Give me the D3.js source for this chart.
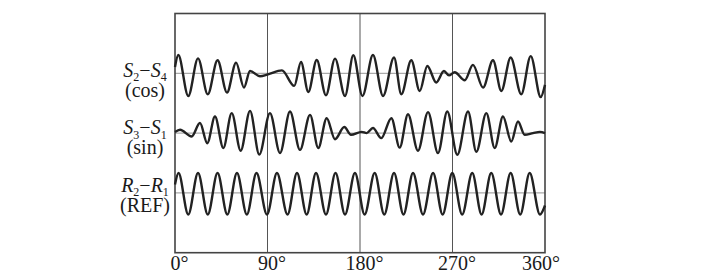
<!DOCTYPE html>
<html>
<head>
<meta charset="utf-8">
<style>
    body {
        margin: 0;
        background: white;
    }

    svg {
        display: block;
        font-family: 'Liberation Serif', 'Times New Roman', serif;
    }
</style>
</head>

<body>
    <svg width="720" height="278"></svg>
</body>

<script src="https://d3js.org/d3.v7.min.js"></script>

<script>
    // resolver signals, one row each
    let keys = ["cos", "sin", "ref"]
    let labelTop = [["S", "2", "S", "4"], ["S", "3", "S", "1"], ["R", "2", "R", "1"]]
    let labelBottom = ["(cos)", "(sin)", "(REF)"]
    let tickDegrees = [0, 90, 180, 270, 360]

    // [angle in degrees, signal] at each peak / trough
    let cosPoints = [[0, 0.3], [3.2, 0.87], [12.9, -1.08], [22.4, 0.71], [31.9, -1.0], [41.4, 0.62], [50.6, -0.92],
        [59.4, 0.51], [67.1, -0.68], [73, 0.11], [82.7, -0.14], [90.5, -0.05], [104, 0.14], [116, -0.6],
        [122.6, 0.54], [129.7, -0.89], [137.9, 0.63], [146.9, -1.05], [155.7, 0.7], [165.4, -1.08], [173.5, 0.86],
        [182.4, -1.08], [192.6, 0.87], [202.4, -1.08], [213.1, 0.75], [220.2, -1.0], [229.9, 0.62], [238.1, -0.84],
        [245.5, 0.35], [254.2, -0.44], [261.7, 0.11], [266.6, -0.1], [272.1, 0.05], [281.9, -0.33], [289.9, 0.4],
        [299.7, -0.68], [309.4, 0.62], [317.5, -0.84], [326.6, 0.75], [336.9, -1.0], [346.1, 0.82], [355.8, -1.13],
        [360, -0.55]]

    let sinPoints = [[0, 0.05], [4.9, 0.16], [16.2, -0.16], [24.3, 0.48], [31.4, -0.48], [38.9, 0.79], [47, -0.71],
        [55.2, 0.95], [63.9, -0.84], [73, 1.06], [82, -1.02], [92.4, 0.95], [102.2, -0.95], [111.9, 1.03],
        [121.6, -0.8], [131.4, 0.87], [139.4, -0.71], [147.6, 0.71], [155.7, -0.29], [164.7, 0.29], [171.2, -0.08],
        [181.6, 0.06], [186.5, 0.0], [192.6, 0.24], [200.7, -0.24], [210.5, 0.71], [218.6, -0.69], [226.7, 0.9],
        [236.4, -0.84], [246.2, 1.0], [255.9, -0.95], [264.9, 1.03], [274.7, -1.03], [285.1, 1.03], [293.2, -0.89],
        [302.9, 0.95], [311.1, -0.71], [319.1, 0.79], [327.2, -0.4], [333.7, 0.55], [340.2, -0.08], [348.3, 0.0],
        [355.1, 0.06], [360, 0.0]]

    let refPoints = [[0, 0.4], [3.4, 0.95], [12.9, -1.03], [22.4, 0.95], [31.9, -1.03], [41.4, 0.95], [50.9, -1.03],
        [60.3, 0.95], [69.9, -1.03], [79.3, 0.95], [89.5, -1.03], [99.2, 0.95], [109.5, -1.03], [118.7, 0.95],
        [128.1, -1.03], [137.2, 0.95], [146.9, -1.03], [156.2, 0.95], [165.4, -1.03], [175.1, 0.95], [184.5, -1.03],
        [194.3, 0.95], [203.6, -1.03], [213.1, 0.95], [222.3, -1.03], [231.6, 0.95], [241.3, -1.03], [251.1, 0.95],
        [260.4, -1.03], [269.8, 0.95], [279.4, -1.03], [289.2, 0.95], [298.3, -1.03], [307.7, 0.95], [317.2, -1.03],
        [326.6, 0.95], [335.9, -1.03], [345.1, 0.95], [355.1, -1.03], [360, -0.6]]

    let series = { cos: cosPoints, sin: sinPoints, ref: refPoints }

    let svg = d3.select("svg")

    let plotLeft = 175, plotRight = 545, plotTop = 13.5, plotBottom = 252.7

    let x = d3.scaleLinear().domain([0, 360]).range([plotLeft, plotRight])
    let row = d3.scalePoint().domain(keys).range([plotTop, plotBottom]).padding(1)
    let amp = d3.scaleLinear().domain([-1, 1]).range([21, -21])
    let labelY = d3.scalePoint().domain(keys).range([76.5, 191.5])

    // zero line of each trace
    svg.append("g")
        .selectAll("line")
        .data(keys)
        .join("line")
        .attr("x1", plotLeft)
        .attr("x2", plotRight)
        .attr("y1", d => row(d))
        .attr("y2", d => row(d))
        .attr("stroke", "#aaa")
        .attr("stroke-width", 1.3)

    svg.append("g")
        .selectAll("line")
        .data(tickDegrees.slice(1, -1))
        .join("line")
        .attr("x1", d => x(d))
        .attr("x2", d => x(d))
        .attr("y1", plotTop)
        .attr("y2", plotBottom)
        .attr("stroke", "#555")
        .attr("stroke-width", 1)

    svg.append("rect")
        .attr("x", plotLeft)
        .attr("y", plotTop)
        .attr("width", plotRight - plotLeft)
        .attr("height", plotBottom - plotTop)
        .attr("fill", "none")
        .attr("stroke", "#444")
        .attr("stroke-width", 1.6)

    keys.forEach(k => {
        let line = d3.line()
            .x(d => x(d[0]))
            .y(d => row(k) + amp(d[1]))
            .curve(d3.curveMonotoneX)

        svg.append("path")
            .datum(series[k])
            .attr("d", line)
            .attr("fill", "none")
            .attr("stroke", "#222")
            .attr("stroke-width", 2.4)
            .attr("stroke-linejoin", "round")
    })

    let axis = svg.append("g")
        .attr("transform", `translate(0,${plotBottom})`)
        .call(d3.axisBottom(x).tickValues(tickDegrees).tickSize(0).tickPadding(0).tickFormat(d => d + "°"))
        .attr("font-family", null)
        .attr("font-size", 20)

    axis.select(".domain").remove()
    axis.selectAll("text")
        .attr("fill", "#1a1a1a")
        .attr("dy", null)
        .attr("y", 17.3)
        .attr("dx", (d, i) => i == tickDegrees.length - 1 ? "-0.23em" : "0.2em")

    // row labels on the left
    let labels = svg.append("g")
        .attr("font-size", 20)
        .attr("fill", "#1a1a1a")

    keys.forEach((k, i) => {
        let p = labelTop[i]
        let t = labels.append("text")
            .attr("x", 145)
            .attr("y", labelY(k))
            .attr("text-anchor", "middle")
        t.append("tspan").attr("font-style", "italic").text(p[0])
        t.append("tspan").attr("font-size", 12).attr("dy", 4.5).text(p[1])
        t.append("tspan").attr("dy", -4.5).text("−")
        t.append("tspan").attr("font-style", "italic").text(p[2])
        t.append("tspan").attr("font-size", 12).attr("dy", 4.5).text(p[3])

        labels.append("text")
            .attr("x", 145)
            .attr("y", labelY(k) + 20)
            .attr("text-anchor", "middle")
            .text(labelBottom[i])
    })
</script>

</html>
